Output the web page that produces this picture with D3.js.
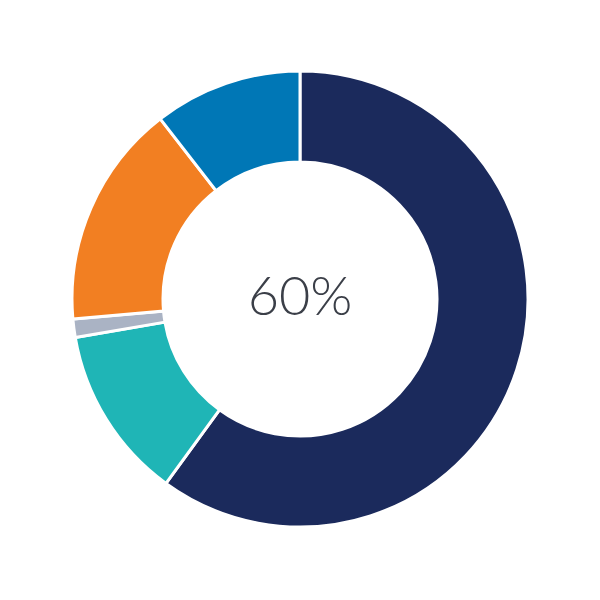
<!DOCTYPE html>
<html>
<head>
<meta charset="utf-8">
<script src="https://cdn.jsdelivr.net/npm/d3@7"></script>
<style>
  html, body { margin: 0; padding: 0; background: #ffffff; }
  svg { display: block; }
</style>
</head>
<body>
<svg id="chart" width="600" height="600"></svg>
<script>
const categories = ["A", "B", "C", "D", "E"];
const values = [60, 12.3, 1.3, 15.9, 10.5];
const colors = ["#1b2a5c", "#1fb5b6", "#aab3c4", "#f27f22", "#0077b6"];
const centerLabel = "60%";

const svg = d3.select("#chart");
const cx = 300, cy = 299, outerR = 228, innerR = 137;

const color = d3.scaleOrdinal().domain(categories).range(colors);
const pie = d3.pie().sort(null).value(d => d.value);
const arc = d3.arc().innerRadius(innerR).outerRadius(outerR);

const data = categories.map((c, i) => ({ cat: c, value: values[i] }));

const g = svg.append("g").attr("transform", `translate(${cx},${cy})`);
g.selectAll("path")
  .data(pie(data))
  .join("path")
  .attr("d", arc)
  .attr("fill", d => color(d.data.cat))
  .attr("stroke", "#ffffff")
  .attr("stroke-width", 3)
  .attr("stroke-linejoin", "miter");

g.append("text")
  .attr("x", 0)
  .attr("y", 16)
  .attr("text-anchor", "middle")
  .attr("font-family", "Lato, 'Open Sans', sans-serif")
  .attr("font-weight", 300)
  .attr("font-size", 54)
  .attr("fill", "#3b3f48")
  .text(centerLabel);
</script>
</body>
</html>
